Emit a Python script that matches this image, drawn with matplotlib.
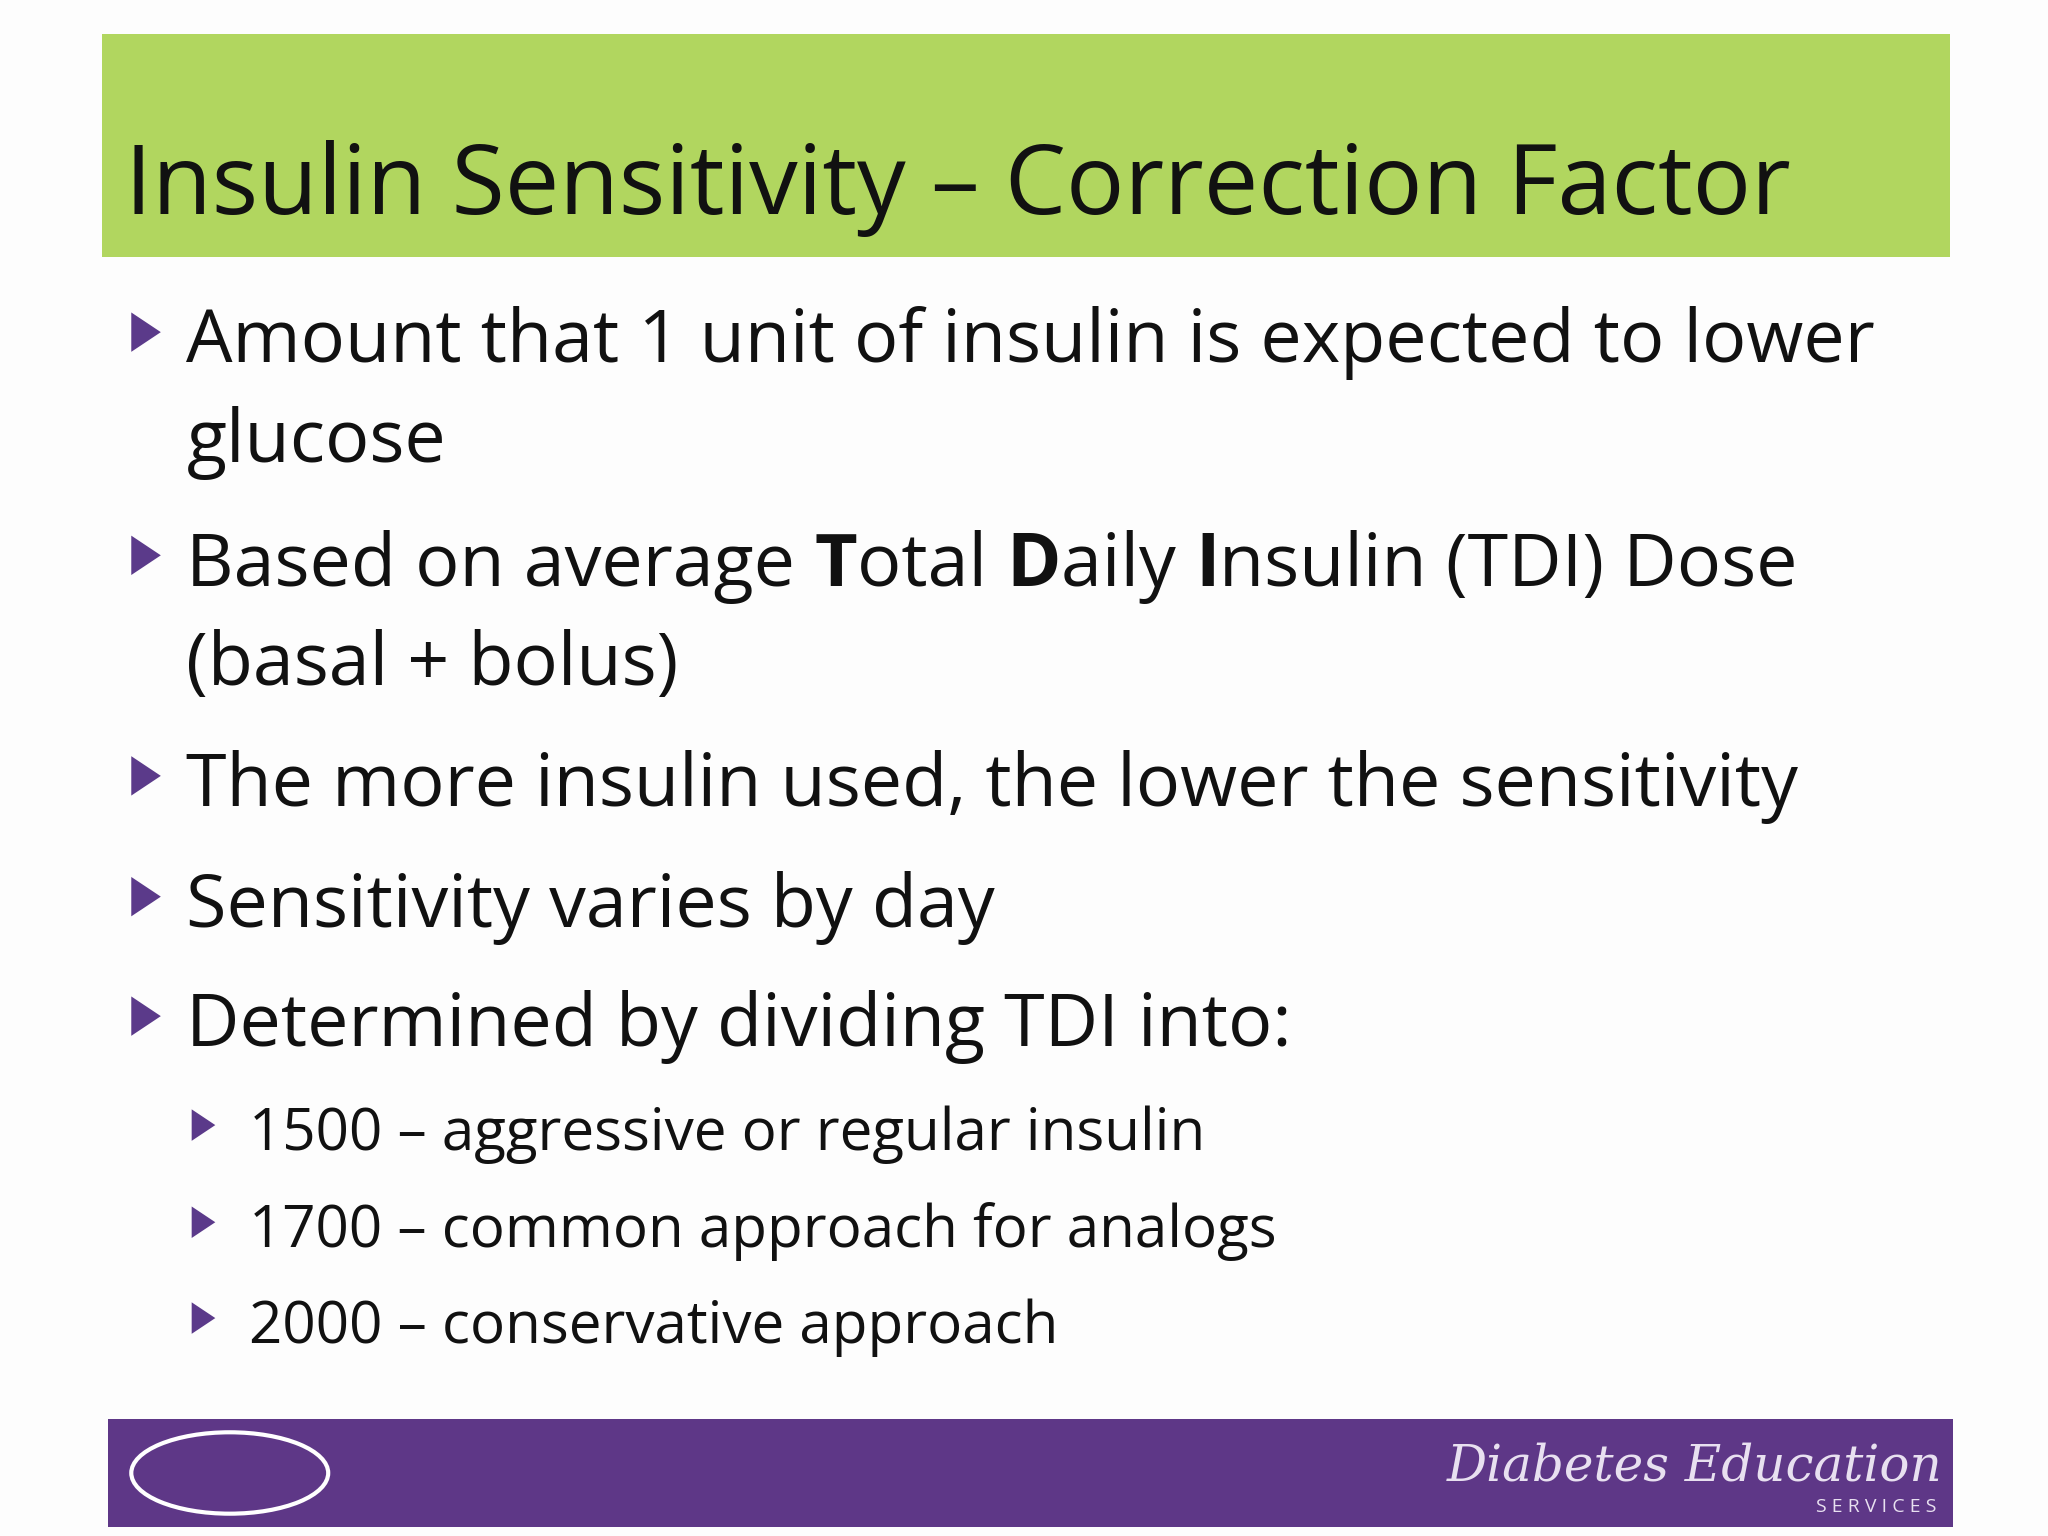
import matplotlib
matplotlib.use("Agg")
import matplotlib.pyplot as plt
from matplotlib.patches import Rectangle, Polygon, Ellipse

title = "Insulin Sensitivity – Correction Factor"
bullets = [
    [("Amount that 1 unit of insulin is expected to lower", "normal")],
    [("glucose", "normal")],
    [("Based on average ", "normal"), ("T", "bold"), ("otal ", "normal"), ("D", "bold"),
     ("aily ", "normal"), ("I", "bold"), ("nsulin (TDI) Dose", "normal")],
    [("(basal + bolus)", "normal")],
    [("The more insulin used, the lower the sensitivity", "normal")],
    [("Sensitivity varies by day", "normal")],
    [("Determined by dividing TDI into:", "normal")],
]
bullet_marks = [True, False, True, False, True, True, True]
sub_bullets = ["1500 – aggressive or regular insulin",
               "1700 – common approach for analogs",
               "2000 – conservative approach"]

W, H = 1560, 1170
fig = plt.figure(figsize=(20.48, 15.36), dpi=100)
fig.patch.set_facecolor("#fdfdfd")
FONT = "Open Sans"
PURPLE = "#5b3a8a"

def fx(x): return x / W
def fy(y): return 1 - y / H

fig.add_artist(Rectangle((fx(78), fy(196)), fx(1485) - fx(78), fy(26) - fy(196),
                         transform=fig.transFigure, color="#b1d65f", lw=0))
fig.text(fx(95), fy(163), title, fontsize=70, family=FONT, color="#111111", va="baseline")

renderer = fig.canvas.get_renderer()

def tri(x, y, s):
    fig.add_artist(Polygon([(fx(x), fy(y)), (fx(x), fy(y - 2 * s)), (fx(x + 1.5 * s), fy(y - s))],
                           closed=True, transform=fig.transFigure, color=PURPLE, lw=0))

def seg_line(x, y, segs, size):
    cx = fx(x)
    for txt, w in segs:
        t = fig.text(cx, fy(y), txt, fontsize=size, family=FONT, weight=w,
                     color="#111111", va="baseline")
        cx += t.get_window_extent(renderer).width / fig.bbox.width

base = [276, 352, 446, 522, 614, 706, 797]
for segs, mark, y in zip(bullets, bullet_marks, base):
    if mark:
        tri(100, y - 8, 15)
    seg_line(142, y, segs, 53)

for txt, y in zip(sub_bullets, [876, 950, 1023]):
    tri(146, y - 7, 12)
    fig.text(fx(190), fy(y), txt, fontsize=42, family=FONT, color="#111111", va="baseline")

fig.add_artist(Rectangle((fx(82), fy(1163)), fx(1488) - fx(82), fy(1081) - fy(1163),
                         transform=fig.transFigure, color="#5e3787", lw=0))
fig.add_artist(Ellipse((fx(175), fy(1122)), fx(150), fy(0) - fy(62), transform=fig.transFigure,
                       fill=False, ec="white", lw=3))
fig.text(fx(1480), fy(1128), "Diabetes Education", fontsize=36, family="DejaVu Serif",
         style="italic", color="#e8e0f0", ha="right", va="baseline")
fig.text(fx(1475), fy(1152), "S E R V I C E S", fontsize=14, family=FONT,
         color="#e8e0f0", ha="right", va="baseline")

fig.savefig("out.png", dpi=100, facecolor=fig.get_facecolor())
